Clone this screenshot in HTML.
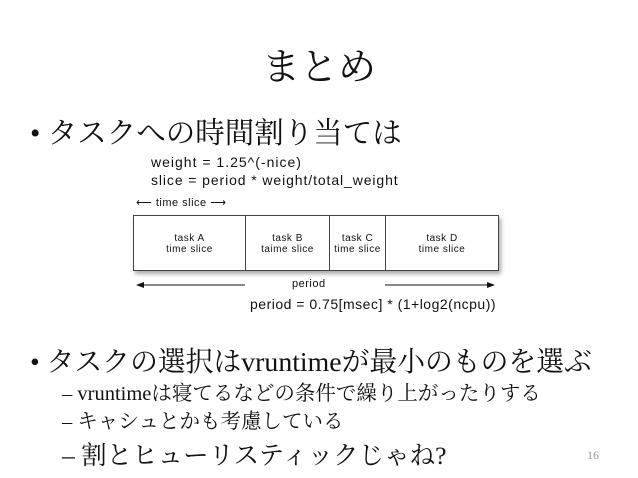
<!DOCTYPE html>
<html><head><meta charset="utf-8"><style>
body{margin:0;width:638px;height:478px;background:#fff;position:relative;overflow:hidden;font-family:"Liberation Serif","Noto Serif CJK SC",serif;color:#111}
.a{position:absolute;white-space:nowrap}
.s{font-family:"Liberation Sans","Noto Sans CJK JP",sans-serif}
.box{position:absolute;top:215px;height:54px;border:1px solid #444;box-shadow:2px 3px 4px #aaa;background:#fff}
.cell{position:absolute;top:0;height:54px;border-right:1px solid #444;font-family:"Liberation Sans",sans-serif;font-size:10px;letter-spacing:0.5px;text-align:center;line-height:11px;padding-top:17px;box-sizing:border-box}
</style></head><body>
<div class="a" style="left:0;width:638px;text-align:center;top:36px;font-size:38px">まとめ</div>
<div class="a" style="left:30px;top:110px;font-size:29.5px">• タスクへの時間割り当ては</div>
<div class="a s" style="left:151px;top:154px;font-size:14px;letter-spacing:1px">weight = 1.25^(-nice)</div>
<div class="a s" style="left:151px;top:172px;font-size:14px;letter-spacing:0.9px">slice = period * weight/total_weight</div>
<div class="a s" style="left:136px;top:196px;font-size:11px;letter-spacing:0.5px">⟵ time slice ⟶</div>
<div class="box" style="left:133px;width:364px">
<div class="cell" style="left:0;width:112px">task A<br>time slice</div>
<div class="cell" style="left:112px;width:84px">task B<br>taime slice</div>
<div class="cell" style="left:196px;width:56px">task C<br>time slice</div>
<div class="cell" style="left:252px;width:112px;border-right:none">task D<br>time slice</div>
</div>
<svg class="a" style="left:0;top:0" width="638" height="478">
<defs><marker id="m" markerWidth="8" markerHeight="6" refX="7" refY="3" orient="auto"><path d="M0,0L8,3L0,6z" fill="#111"/></marker></defs>
<line x1="245" y1="285" x2="137" y2="285" stroke="#111" marker-end="url(#m)"/>
<line x1="385" y1="285" x2="494" y2="285" stroke="#111" marker-end="url(#m)"/>
</svg>
<div class="a s" style="left:292px;top:278px;font-size:11px;letter-spacing:0.5px">period</div>
<div class="a s" style="left:250px;top:296px;font-size:14px;letter-spacing:0.5px">period = 0.75[msec] * (1+log2(ncpu))</div>
<div class="a" style="left:30px;top:339px;font-size:27.8px">• タスクの選択はvruntimeが最小のものを選ぶ</div>
<div class="a" style="left:62px;top:376px;font-size:20.5px">– vruntimeは寝てるなどの条件で繰り上がったりする</div>
<div class="a" style="left:62px;top:404px;font-size:20.5px">– キャシュとかも考慮している</div>
<div class="a" style="left:62px;top:436px;font-size:25.5px">– 割とヒューリスティックじゃね?</div>
<div class="a" style="left:587px;top:448px;font-size:12px;color:#999">16</div>
</body></html>
